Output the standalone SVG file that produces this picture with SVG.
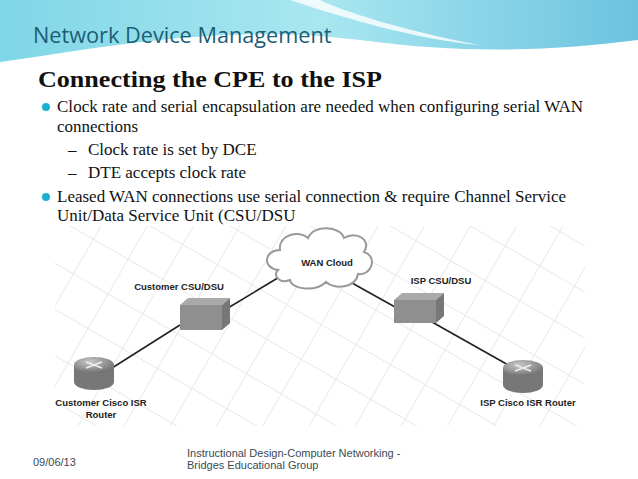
<svg xmlns="http://www.w3.org/2000/svg" width="638" height="479" viewBox="0 0 638 479">
<defs>
<linearGradient id="hdr" x1="0" y1="0" x2="1" y2="0"><stop offset="0" stop-color="#7fd6e6"/><stop offset="0.5" stop-color="#a9e7f0"/><stop offset="1" stop-color="#6cc3e0"/></linearGradient>
<radialGradient id="rt" cx="0.4" cy="0.3" r="0.8"><stop offset="0" stop-color="#c8c8c8"/><stop offset="1" stop-color="#666"/></radialGradient>
<pattern id="grid" width="40" height="40" patternUnits="userSpaceOnUse" patternTransform="rotate(30)"><path d="M0 0H40M0 0V40" stroke="#e4e4e4" stroke-width="1.5" fill="none"/></pattern>
</defs>
<style>
.t{font-family:"Liberation Serif",serif;fill:#111;font-size:17px}
.lb{font-family:"Liberation Sans",Arial,sans-serif;font-weight:bold;font-size:9.5px;fill:#222}
.ft{font-family:"Liberation Sans",Arial,sans-serif;font-size:11px;fill:#3a4a55}
.ln{stroke:#222;stroke-width:1.6;fill:none}
</style>
<rect width="638" height="479" fill="#fff"/>
<path d="M0 0H638V40C560 50 470 55 360 40C220 22 90 50 0 62Z" fill="url(#hdr)"/>
<path d="M290 0C350 20 420 40 480 45C400 30 340 10 320 0Z" fill="#fff" opacity="0.8"/>
<text x="33" y="43" font-family="Open Sans,Liberation Sans,sans-serif" font-size="21.7" fill="#1d5d76">Network Device Management</text>
<text x="38" y="87" font-family="Liberation Serif,serif" font-weight="bold" font-size="23" fill="#111" textLength="344" lengthAdjust="spacingAndGlyphs">Connecting the CPE to the ISP</text>
<circle cx="46" cy="107" r="4" fill="#1ab0d0"/>
<text class="t" x="57" y="112" textLength="526">Clock rate and serial encapsulation are needed when configuring serial WAN</text>
<text class="t" x="57" y="132">connections</text>
<text class="t" x="68" y="155">–</text><text class="t" x="88" y="155">Clock rate is set by DCE</text>
<text class="t" x="68" y="178">–</text><text class="t" x="88" y="178">DTE accepts clock rate</text>
<circle cx="46" cy="197" r="4" fill="#1ab0d0"/>
<text class="t" x="57" y="202" textLength="509">Leased WAN connections use serial connection &amp; require Channel Service</text>
<text class="t" x="57" y="221">Unit/Data Service Unit (CSU/DSU</text>
<rect x="55" y="226" width="530" height="200" fill="url(#grid)"/>
<g id="connectors">
<line class="ln" x1="112" y1="368" x2="180" y2="325"/>
<line class="ln" x1="228" y1="308" x2="281" y2="276"/>
<line class="ln" x1="352" y1="283" x2="395" y2="307"/>
<line class="ln" x1="432" y1="322" x2="510" y2="366"/>
</g>
<g id="cloud">
<path d="M278 270C262 268 264 250 280 250C278 234 300 230 308 238C314 224 340 226 344 238C356 230 372 240 364 252C378 256 372 276 358 274C356 288 334 290 326 282C316 292 292 290 290 280C280 284 272 276 278 270Z" fill="#fff" stroke="#999" stroke-width="2"/>
<text class="lb" x="327" y="266" text-anchor="middle" font-size="10.5">WAN Cloud</text>
</g>
<g id="csu1">
<polygon points="180,305 188,298 230,298 222,305" fill="#aaa"/>
<polygon points="222,305 230,298 230,323 222,330" fill="#777"/>
<rect x="180" y="305" width="42" height="25" fill="#8f8f8f"/>
<text class="lb" x="179" y="290" text-anchor="middle">Customer CSU/DSU</text>
</g>
<g id="csu2">
<polygon points="394,300 402,293 444,293 436,300" fill="#aaa"/>
<polygon points="436,300 444,293 444,316 436,323" fill="#777"/>
<rect x="394" y="300" width="42" height="23" fill="#8f8f8f"/>
<text class="lb" x="441" y="284" text-anchor="middle">ISP CSU/DSU</text>
</g>
<g id="r1">
<path d="M74 365V382A20 8 0 0 0 114 382V365Z" fill="#777"/>
<ellipse cx="94" cy="365" rx="20" ry="8" fill="url(#rt)"/>
<path d="M86 362L102 368M102 362L86 368" stroke="#eee" stroke-width="1.5"/>
<text class="lb" x="101" y="406" text-anchor="middle">Customer Cisco ISR</text>
<text class="lb" x="101" y="418" text-anchor="middle">Router</text>
</g>
<g id="r2">
<path d="M503 368V385A20 8 0 0 0 543 385V368Z" fill="#777"/>
<ellipse cx="523" cy="368" rx="20" ry="8" fill="url(#rt)"/>
<path d="M515 365L531 371M531 365L515 371" stroke="#eee" stroke-width="1.5"/>
<text class="lb" x="528" y="406" text-anchor="middle">ISP Cisco ISR Router</text>
</g>
<text class="ft" x="33" y="466">09/06/13</text>
<text class="ft" x="187" y="457">Instructional Design-Computer Networking -</text>
<text class="ft" x="187" y="469">Bridges Educational Group</text>
</svg>
